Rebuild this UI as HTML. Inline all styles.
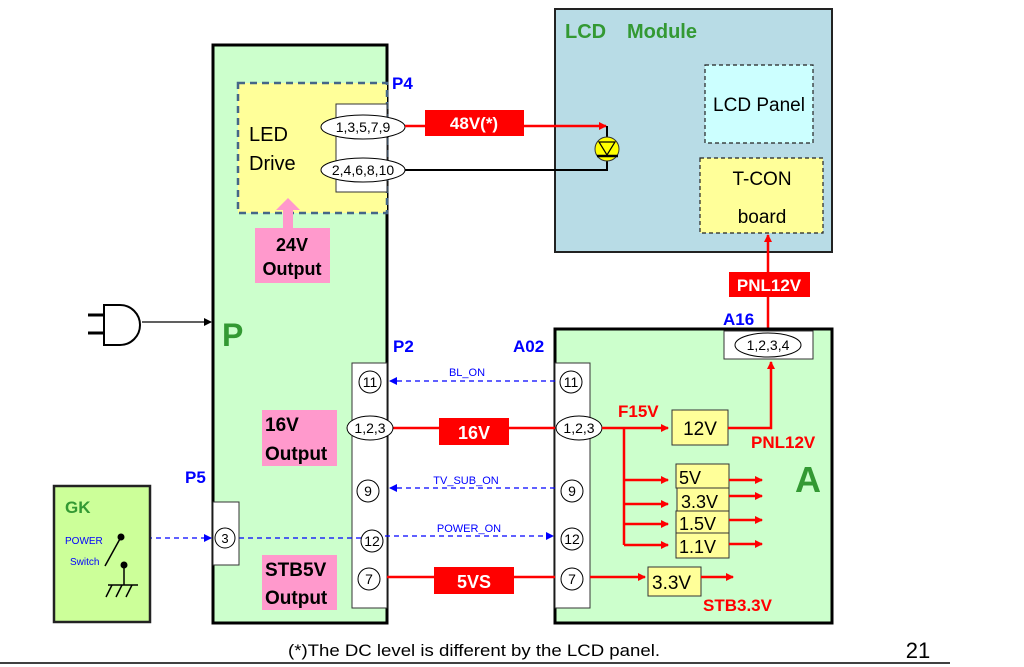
<!DOCTYPE html>
<html><head><meta charset="utf-8"><style>
html,body{margin:0;padding:0;background:#fff;}
svg{display:block;font-family:"Liberation Sans",sans-serif;}
</style></head><body>
<svg width="1024" height="667" viewBox="0 0 1024 667" xmlns="http://www.w3.org/2000/svg">
<defs>
<marker id="ar" markerWidth="8" markerHeight="8" refX="7" refY="4" orient="auto" markerUnits="userSpaceOnUse"><path d="M0,0 L8,4 L0,8z" fill="#f00"/></marker>
<marker id="ab" markerWidth="8" markerHeight="8" refX="7" refY="4" orient="auto" markerUnits="userSpaceOnUse"><path d="M0,0 L8,4 L0,8z" fill="#00f"/></marker>
<marker id="ak" markerWidth="8" markerHeight="8" refX="7" refY="4" orient="auto" markerUnits="userSpaceOnUse"><path d="M0,0 L8,4 L0,8z" fill="#000"/></marker>
</defs>
<!-- P board -->
<rect x="213" y="45" width="174" height="578" fill="#ccffcc" stroke="#000" stroke-width="3"/>
<rect x="238" y="83" width="149" height="130" fill="#ffff99" stroke="#446688" stroke-width="2.5" stroke-dasharray="7,5"/>
<rect x="336" y="104" width="51" height="88" fill="#fff" stroke="#333" stroke-width="1"/>
<ellipse cx="363" cy="127" rx="42" ry="12" fill="#fff" stroke="#000"/>
<text x="363" y="132" font-size="14" text-anchor="middle">1,3,5,7,9</text>
<ellipse cx="363" cy="170" rx="42" ry="12" fill="#fff" stroke="#000"/>
<text x="363" y="175" font-size="14" text-anchor="middle">2,4,6,8,10</text>
<text x="249" y="141" font-size="20">LED</text>
<text x="249" y="170" font-size="20">Drive</text>
<text x="392" y="89" font-size="17" font-weight="bold" fill="#00f">P4</text>
<!-- 24V -->
<path d="M283,228 L283,210 L276,210 L288,198 L300,210 L293,210 L293,228z" fill="#ff99cc"/>
<rect x="255" y="228" width="75" height="55" fill="#ff99cc"/>
<text x="292" y="251" font-size="18" font-weight="bold" text-anchor="middle">24V</text>
<text x="292" y="275" font-size="18" font-weight="bold" text-anchor="middle">Output</text>
<!-- LCD module -->
<rect x="555" y="9" width="277" height="243" fill="#b8dce6" stroke="#222" stroke-width="2"/>
<text x="565" y="38" font-size="20" font-weight="bold" fill="#339933">LCD</text>
<text x="627" y="38" font-size="20" font-weight="bold" fill="#339933">Module</text>
<rect x="705" y="65" width="108" height="78" fill="#ccffff" stroke="#222" stroke-width="1.2" stroke-dasharray="4,3"/>
<text x="759" y="111" font-size="19" text-anchor="middle">LCD Panel</text>
<rect x="700" y="158" width="123" height="75" fill="#ffff99" stroke="#222" stroke-width="1.2" stroke-dasharray="4,3"/>
<text x="762" y="185" font-size="19" text-anchor="middle">T-CON</text>
<text x="762" y="223" font-size="19" text-anchor="middle">board</text>
<!-- 48V line -->
<line x1="405" y1="126" x2="606" y2="126" stroke="#f00" stroke-width="2.5" marker-end="url(#ar)"/>
<rect x="425" y="110" width="99" height="26" fill="#f00"/>
<text x="474" y="129" font-size="17" font-weight="bold" fill="#fff" text-anchor="middle">48V(*)</text>
<!-- diode -->
<polyline points="405,170 607,170 607,126" fill="none" stroke="#000" stroke-width="2"/>
<circle cx="607" cy="149" r="12" fill="#ffff00" stroke="#333"/>
<path d="M599,142 L615,142 L607,155z" fill="none" stroke="#000" stroke-width="1.2"/>
<line x1="597" y1="156" x2="618" y2="156" stroke="#000" stroke-width="2.5"/>
<!-- PNL12V -->
<line x1="768" y1="331" x2="768" y2="235" stroke="#f00" stroke-width="2.5" marker-end="url(#ar)"/>
<rect x="729" y="272" width="81" height="25" fill="#f00"/>
<text x="769" y="291" font-size="17" font-weight="bold" fill="#fff" text-anchor="middle">PNL12V</text>
<text x="723" y="325" font-size="17" font-weight="bold" fill="#00f">A16</text>
<!-- plug -->
<path d="M104,305 L120,305 A20,20 0 0 1 120,345 L104,345 Z" fill="#fff" stroke="#000" stroke-width="2"/>
<line x1="88" y1="315" x2="104" y2="315" stroke="#000" stroke-width="3"/>
<line x1="88" y1="333" x2="104" y2="333" stroke="#000" stroke-width="3"/>
<line x1="142" y1="322" x2="211" y2="322" stroke="#000" stroke-width="1.2" marker-end="url(#ak)"/>
<text x="222" y="346" font-size="32" font-weight="bold" fill="#339933">P</text>
<!-- A board -->
<rect x="555" y="329" width="277" height="294" fill="#ccffcc" stroke="#000" stroke-width="3"/>
<rect x="724" y="331" width="89" height="28" fill="#fff" stroke="#333"/>
<ellipse cx="768" cy="345" rx="33" ry="12" fill="#fff" stroke="#000"/>
<text x="768" y="350" font-size="14" text-anchor="middle">1,2,3,4</text>
<text x="393" y="352" font-size="17" font-weight="bold" fill="#00f">P2</text>
<text x="513" y="352" font-size="17" font-weight="bold" fill="#00f">A02</text>
<rect x="352" y="363" width="35" height="245" fill="#fff" stroke="#333"/>
<rect x="555" y="363" width="35" height="245" fill="#fff" stroke="#333"/>
<!-- 16V / 5VS output labels -->
<rect x="262" y="410" width="75" height="56" fill="#ff99cc"/>
<text x="265" y="431" font-size="19" font-weight="bold">16V</text>
<text x="265" y="460" font-size="19" font-weight="bold">Output</text>
<rect x="262" y="555" width="75" height="55" fill="#ff99cc"/>
<text x="265" y="576" font-size="19" font-weight="bold">STB5V</text>
<text x="265" y="604" font-size="19" font-weight="bold">Output</text>
<!-- signals -->
<line x1="555" y1="381" x2="390" y2="381" stroke="#00f" stroke-width="1.3" stroke-dasharray="5,4" marker-end="url(#ab)"/>
<text x="467" y="376" font-size="11" fill="#00f" text-anchor="middle">BL_ON</text>
<line x1="555" y1="488" x2="390" y2="488" stroke="#00f" stroke-width="1.3" stroke-dasharray="5,4" marker-end="url(#ab)"/>
<text x="466" y="484" font-size="11" fill="#00f" text-anchor="middle">TV_SUB_ON</text>
<line x1="120" y1="538" x2="211" y2="538" stroke="#00f" stroke-width="1.3" stroke-dasharray="5,4" marker-end="url(#ab)"/>
<line x1="239" y1="538" x2="362" y2="538" stroke="#00f" stroke-width="1.3" stroke-dasharray="5,4"/>
<line x1="385" y1="536" x2="553" y2="536" stroke="#00f" stroke-width="1.3" stroke-dasharray="5,4" marker-end="url(#ab)"/>
<text x="469" y="532" font-size="11" fill="#00f" text-anchor="middle">POWER_ON</text>
<!-- 16V line -->
<line x1="387" y1="428" x2="555" y2="428" stroke="#f00" stroke-width="2.5"/>
<rect x="439" y="418" width="70" height="27" fill="#f00"/>
<text x="474" y="439" font-size="18" font-weight="bold" fill="#fff" text-anchor="middle">16V</text>
<line x1="387" y1="577" x2="555" y2="577" stroke="#f00" stroke-width="2.5"/>
<rect x="434" y="567" width="80" height="27" fill="#f00"/>
<text x="474" y="588" font-size="18" font-weight="bold" fill="#fff" text-anchor="middle">5VS</text>
<!-- pins -->
<circle cx="370" cy="382" r="11" fill="#fff" stroke="#000"/><text x="370" y="387" font-size="14" text-anchor="middle">11</text>
<ellipse cx="370" cy="428" rx="23" ry="12" fill="#fff" stroke="#000"/><text x="370" y="433" font-size="14" text-anchor="middle">1,2,3</text>
<circle cx="368" cy="491" r="11" fill="#fff" stroke="#000"/><text x="368" y="496" font-size="14" text-anchor="middle">9</text>
<circle cx="372" cy="541" r="11" fill="#fff" stroke="#000"/><text x="372" y="546" font-size="14" text-anchor="middle">12</text>
<circle cx="369" cy="579" r="11" fill="#fff" stroke="#000"/><text x="369" y="584" font-size="14" text-anchor="middle">7</text>
<circle cx="571" cy="382" r="11" fill="#fff" stroke="#000"/><text x="571" y="387" font-size="14" text-anchor="middle">11</text>
<ellipse cx="579" cy="428" rx="23" ry="12" fill="#fff" stroke="#000"/><text x="579" y="433" font-size="14" text-anchor="middle">1,2,3</text>
<circle cx="572" cy="491" r="11" fill="#fff" stroke="#000"/><text x="572" y="496" font-size="14" text-anchor="middle">9</text>
<circle cx="572" cy="539" r="11" fill="#fff" stroke="#000"/><text x="572" y="544" font-size="14" text-anchor="middle">12</text>
<circle cx="572" cy="579" r="11" fill="#fff" stroke="#000"/><text x="572" y="584" font-size="14" text-anchor="middle">7</text>
<!-- A internal -->
<text x="618" y="417" font-size="17" font-weight="bold" fill="#f00">F15V</text>
<line x1="602" y1="428" x2="668" y2="428" stroke="#f00" stroke-width="2.5" marker-end="url(#ar)"/>
<rect x="672" y="410" width="56" height="35" fill="#ffff99" stroke="#333"/>
<text x="700" y="435" font-size="19" text-anchor="middle">12V</text>
<polyline points="728,428 771,428 771,362" fill="none" stroke="#f00" stroke-width="2.5" marker-end="url(#ar)"/>
<text x="751" y="448" font-size="17" font-weight="bold" fill="#f00">PNL12V</text>
<text x="795" y="492" font-size="36" font-weight="bold" fill="#339933">A</text>
<line x1="624" y1="428" x2="624" y2="545" stroke="#f00" stroke-width="2.5"/>
<line x1="624" y1="480" x2="668" y2="480" stroke="#f00" stroke-width="2.5" marker-end="url(#ar)"/>
<line x1="624" y1="504" x2="668" y2="504" stroke="#f00" stroke-width="2.5" marker-end="url(#ar)"/>
<line x1="624" y1="524" x2="668" y2="524" stroke="#f00" stroke-width="2.5" marker-end="url(#ar)"/>
<line x1="624" y1="545" x2="668" y2="545" stroke="#f00" stroke-width="2.5" marker-end="url(#ar)"/>
<rect x="676" y="464" width="53" height="24" fill="#ffff99" stroke="#333"/><text x="679" y="484" font-size="18">5V</text>
<rect x="677" y="488" width="52" height="23" fill="#ffff99" stroke="#333"/><text x="681" y="508" font-size="18">3.3V</text>
<rect x="676" y="511" width="53" height="22" fill="#ffff99" stroke="#333"/><text x="679" y="530" font-size="18">1.5V</text>
<rect x="676" y="533" width="53" height="25" fill="#ffff99" stroke="#333"/><text x="679" y="553" font-size="18">1.1V</text>
<line x1="729" y1="480" x2="762" y2="480" stroke="#f00" stroke-width="2.5" marker-end="url(#ar)"/>
<line x1="729" y1="496" x2="762" y2="496" stroke="#f00" stroke-width="2.5" marker-end="url(#ar)"/>
<line x1="729" y1="520" x2="762" y2="520" stroke="#f00" stroke-width="2.5" marker-end="url(#ar)"/>
<line x1="729" y1="544" x2="762" y2="544" stroke="#f00" stroke-width="2.5" marker-end="url(#ar)"/>
<line x1="590" y1="577" x2="645" y2="577" stroke="#f00" stroke-width="2.5" marker-end="url(#ar)"/>
<rect x="648" y="567" width="53" height="29" fill="#ffff99" stroke="#333"/><text x="652" y="589" font-size="19">3.3V</text>
<line x1="701" y1="577" x2="733" y2="577" stroke="#f00" stroke-width="2.5" marker-end="url(#ar)"/>
<text x="703" y="611" font-size="17" font-weight="bold" fill="#f00">STB3.3V</text>
<!-- P5 / GK -->
<text x="185" y="483" font-size="17" font-weight="bold" fill="#00f">P5</text>
<rect x="213" y="502" width="26" height="63" fill="#fff" stroke="#333"/>
<circle cx="225" cy="538" r="10" fill="#fff" stroke="#000"/><text x="225" y="543" font-size="13" text-anchor="middle">3</text>
<rect x="54" y="486" width="96" height="136" fill="#ccff99" stroke="#222" stroke-width="2.5"/>
<text x="65" y="513" font-size="17" font-weight="bold" fill="#339933">GK</text>
<text x="65" y="544" font-size="10" fill="#00f">POWER</text>
<text x="70" y="565" font-size="10" fill="#00f">Switch</text>
<circle cx="121" cy="537" r="3.5" fill="#000"/>
<line x1="121" y1="537" x2="105" y2="566" stroke="#000" stroke-width="1.5"/>
<circle cx="124" cy="565" r="3.5" fill="#000"/>
<line x1="124" y1="565" x2="124" y2="585" stroke="#000" stroke-width="1.5"/>
<line x1="108" y1="585" x2="138" y2="585" stroke="#000" stroke-width="1.5"/>
<line x1="112" y1="585" x2="106" y2="597" stroke="#000" stroke-width="1.5"/>
<line x1="122" y1="585" x2="116" y2="597" stroke="#000" stroke-width="1.5"/>
<line x1="132" y1="585" x2="126" y2="597" stroke="#000" stroke-width="1.5"/>
<!-- footer -->
<text x="474" y="656" font-size="17" text-anchor="middle" textLength="372" lengthAdjust="spacingAndGlyphs">(*)The DC level is different by the LCD panel.</text>
<text x="918" y="658" font-size="22" text-anchor="middle">21</text>
<line x1="0" y1="663" x2="950" y2="663" stroke="#000" stroke-width="1.5"/>
</svg>
</body></html>
